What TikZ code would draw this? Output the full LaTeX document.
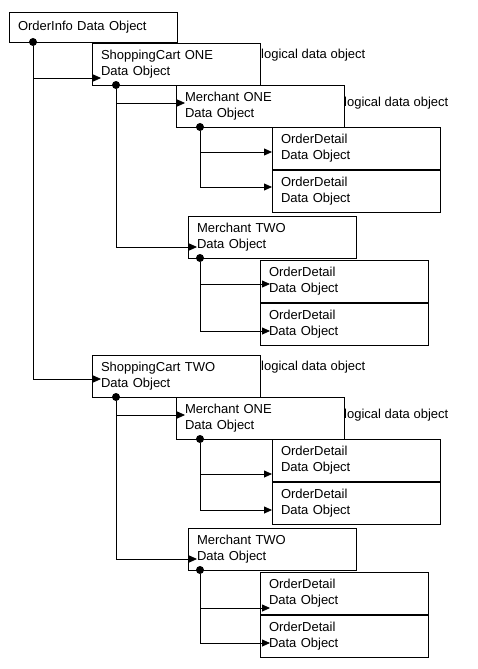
\documentclass[tikz,border=0pt]{standalone}
\usepackage{fontspec}
\setmainfont{Liberation Sans}
\usetikzlibrary{arrows.meta,calc}
\begin{document}
\begin{tikzpicture}[x=1pt,y=-1pt,
dataobj/.style={
% The shape:
rectangle,
draw=black,
line width=0.8pt,
outer sep=0pt,
anchor=north west,
minimum height=42pt,
text width=150pt,
inner xsep=9pt,
inner ysep=0pt,
align=left,
font=\fontsize{13}{16}\selectfont
},
note/.style={
anchor=west,
inner sep=0pt,
font=\fontsize{13}{16}\selectfont
},
dot/.style={
circle,fill=black,inner sep=0pt,minimum size=8pt
},
link/.style={
line width=0.8pt,-{Triangle[length=8pt,width=7pt]}
}
]
\useasboundingbox (0,0) rectangle (478,669);
\node (info) [dataobj,minimum height=30pt] at (9,12) {OrderInfo Data Object};
\node (infodot) [dot] at ($(info.south west)+(24,0)$) {};
% \ca: cart arrow, \da..\dc: detail arrows (down from the box tops)
\foreach \c/\lbl/\dy/\ca/\da/\db/\dc in {one/ONE/0/35/25/17/24,two/TWO/312/24/35/28/36}{
% the cart and its merchants:
\node (cart\c) [dataobj] at (92,{43+\dy}) {ShoppingCart \lbl\\Data Object};
\node (cnote\c) [note] at ($(cart\c.north east)+(1,12)$) {logical data object};
\node (mone\c) [dataobj] at (176,{85+\dy}) {Merchant ONE\\Data Object};
\node (mnote\c) [note] at ($(mone\c.north east)+(0,18)$) {logical data object};
\node (done\c) [dataobj] at (272,{127+\dy}) {OrderDetail\\Data Object};
\node (dtwo\c) [dataobj] at (272,{170+\dy}) {OrderDetail\\Data Object};
\node (mtwo\c) [dataobj] at (188,{216+\dy}) {Merchant TWO\\Data Object};
\node (dthree\c) [dataobj] at (260,{260+\dy}) {OrderDetail\\Data Object};
\node (dfour\c) [dataobj] at (260,{303+\dy}) {OrderDetail\\Data Object};
% dots on the lower edges:
\node (cdot\c) [dot] at ($(cart\c.south west)+(24,0)$) {};
\node (monedot\c) [dot] at ($(mone\c.south west)+(24,0)$) {};
\node (mtwodot\c) [dot] at ($(mtwo\c.south west)+(12,0)$) {};
% links:
\draw [link] (infodot) |- ($(cart\c.north west)+(9,\ca)$);
\draw [link] (cdot\c) |- ($(mone\c.north west)+(9,18)$);
\draw [link] (cdot\c) |- ($(mtwo\c.north west)+(9,31)$);
\draw [link] (monedot\c) |- ($(done\c.north west)+(0,\da)$);
\draw [link] (monedot\c) |- ($(dtwo\c.north west)+(0,\db)$);
\draw [link] (mtwodot\c) |- ($(dthree\c.north west)+(10,\dc)$);
\draw [link] (mtwodot\c) |- ($(dfour\c.north west)+(10,28)$);
}
\end{tikzpicture}
\end{document}
